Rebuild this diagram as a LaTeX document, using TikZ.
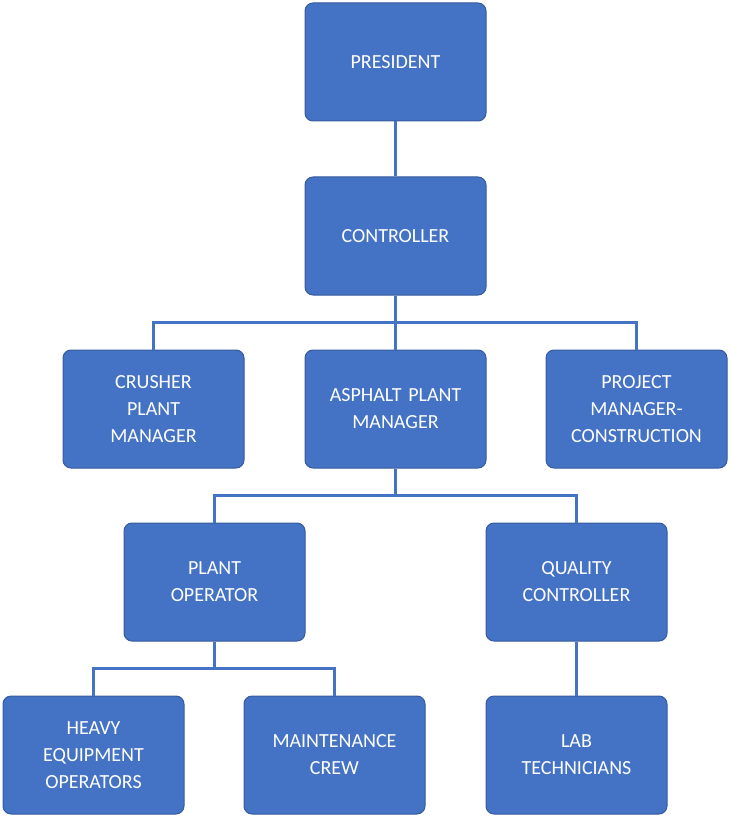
\documentclass[tikz,border=0pt]{standalone}
\usepackage{fontspec}
\setmainfont{Carlito}
\definecolor{obox}{HTML}{4472C4}
\definecolor{oline}{HTML}{4472C4}
\tikzset{
  box/.style={draw=obox!80!black, line width=1pt, fill=obox, rounded corners=8pt, minimum width=181pt, minimum height=118pt, text width=170pt, align=center, text=white, font=\fontsize{20}{27}\selectfont},
  conn/.style={draw=oline, line width=3pt}
}
\begin{document}
\begin{tikzpicture}[x=1pt,y=-1pt]
\useasboundingbox (0,0) rectangle (730,818);
\node[box] (pres) at (395.5,62) {PRESIDENT};
\node[box] (ctrl) at (395.5,236) {CONTROLLER};
\node[box] (crush) at (153.5,409) {CRUSHER\\PLANT\\MANAGER};
\node[box] (asph) at (395.5,409) {ASPHALT PLANT\\MANAGER\\[12pt]};
\node[box] (proj) at (636.5,409) {PROJECT\\MANAGER-\\CONSTRUCTION};
\node[box] (plop) at (214.5,582) {PLANT\\OPERATOR};
\node[box] (qual) at (576.5,582) {QUALITY\\CONTROLLER};
\node[box] (heavy) at (93.5,755) {HEAVY\\EQUIPMENT\\OPERATORS};
\node[box] (maint) at (334.5,755) {MAINTENANCE\\CREW};
\node[box] (lab) at (576.5,755) {LAB\\TECHNICIANS};
\coordinate (b1) at (395.5,322);
\coordinate (b2) at (395.5,495);
\coordinate (b3) at (214.5,668);
\draw[conn] (pres) -- (ctrl);
\draw[conn] (ctrl) -- (b1);
\draw[conn] (crush.north) |- (b1) -| (proj.north);
\draw[conn] (b1) -- (asph);
\draw[conn] (asph) -- (b2);
\draw[conn] (plop.north) |- (b2) -| (qual.north);
\draw[conn] (plop) -- (b3);
\draw[conn] (heavy.north) |- (b3) -| (maint.north);
\draw[conn] (qual) -- (lab);
\end{tikzpicture}
\end{document}
